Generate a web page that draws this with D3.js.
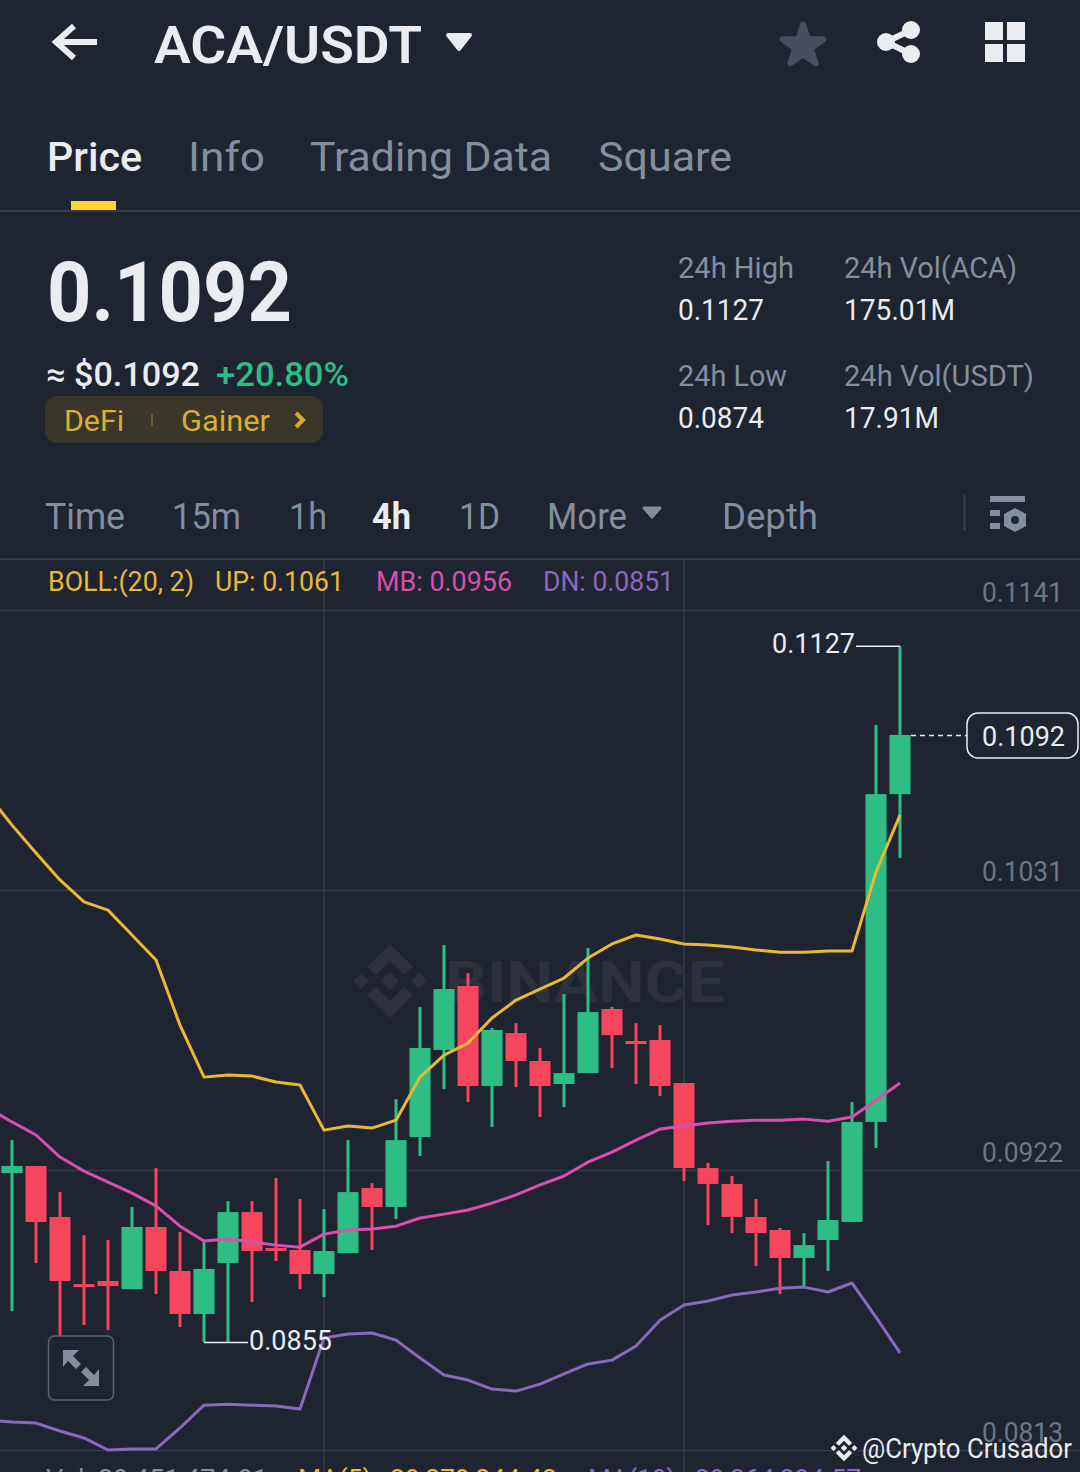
<!DOCTYPE html>
<html>
<head>
<meta charset="utf-8">
<script src="https://cdn.jsdelivr.net/npm/d3@7"></script>
<style>
  html, body { margin: 0; padding: 0; background: #1e2430; }
  svg { display: block; }
  text { font-family: Roboto, "Noto Sans", sans-serif; }
</style>
</head>
<body>
<svg id="chart" width="1080" height="1472"></svg>
<script>
// candles, oldest first
var opens  = [0.09211,0.09239,0.09040,0.08778,0.08790,0.08758,0.09001,0.08829,0.08661,0.08860,0.09059,0.08919,0.08911,0.08817,0.08899,0.09153,0.09079,0.09352,0.09692,0.09942,0.09551,0.09758,0.09649,0.09559,0.09602,0.09852,0.09727,0.09731,0.09563,0.09231,0.09169,0.09040,0.08989,0.08880,0.08950,0.09020,0.09411,0.10691];
var closes = [0.09239,0.09020,0.08790,0.08766,0.08770,0.09001,0.08829,0.08661,0.08837,0.09059,0.08907,0.08907,0.08817,0.08907,0.09137,0.09079,0.09340,0.09700,0.09930,0.09551,0.09770,0.09649,0.09551,0.09602,0.09840,0.09750,0.09715,0.09551,0.09231,0.09169,0.09040,0.08977,0.08880,0.08930,0.09028,0.09411,0.10691,0.10922];
var highs  = [0.09340,0.09239,0.09137,0.08969,0.08950,0.09079,0.09231,0.08981,0.08946,0.09102,0.09102,0.09192,0.09110,0.09071,0.09340,0.09172,0.09500,0.09860,0.10102,0.09992,0.09778,0.09797,0.09700,0.09910,0.10090,0.09860,0.09797,0.09789,0.09563,0.09251,0.09200,0.09110,0.08997,0.08977,0.09258,0.09489,0.10961,0.11269];
var lows   = [0.08672,0.08860,0.08575,0.08618,0.08598,0.08758,0.08739,0.08610,0.08551,0.08551,0.08708,0.08868,0.08758,0.08727,0.08899,0.08911,0.09032,0.09278,0.09539,0.09489,0.09391,0.09547,0.09430,0.09469,0.09602,0.09621,0.09559,0.09512,0.09180,0.09008,0.08977,0.08848,0.08739,0.08766,0.08829,0.09020,0.09309,0.10442];

// bollinger bands, starts one candle left of the screen
var bollUp  = [0.10688,0.10570,0.10461,0.10356,0.10270,0.10238,0.10141,0.10043,0.09789,0.09586,0.09594,0.09590,0.09567,0.09555,0.09379,0.09395,0.09387,0.09418,0.09586,0.09672,0.09719,0.09817,0.09887,0.09930,0.09973,0.10051,0.10106,0.10141,0.10125,0.10106,0.10102,0.10094,0.10082,0.10074,0.10074,0.10078,0.10078,0.10387,0.10609];
var bollMid = [0.09465,0.09411,0.09360,0.09274,0.09219,0.09176,0.09133,0.09083,0.09004,0.08946,0.08954,0.08942,0.08930,0.08922,0.08973,0.08989,0.08993,0.09004,0.09036,0.09051,0.09067,0.09094,0.09126,0.09165,0.09200,0.09254,0.09293,0.09340,0.09383,0.09395,0.09407,0.09414,0.09418,0.09418,0.09422,0.09414,0.09430,0.09496,0.09563];
var bollDn  = [0.08247,0.08239,0.08235,0.08204,0.08177,0.08130,0.08134,0.08134,0.08216,0.08305,0.08309,0.08305,0.08302,0.08290,0.08567,0.08583,0.08587,0.08559,0.08489,0.08423,0.08403,0.08368,0.08360,0.08387,0.08427,0.08466,0.08481,0.08536,0.08637,0.08696,0.08712,0.08735,0.08747,0.08762,0.08766,0.08747,0.08782,0.08649,0.08509];

var priceTicks = [0.1141,0.10317,0.09223,0.0813];
var priceTickLabels = ['0.1141','0.1031','0.0922','0.0813'];
var gridCandles = [13,28];

var lastPrice = 0.1092, dayHigh = 0.1127, dayLow = 0.0855;
var highIndex = 37, lowIndex = 8;

var tabs = ['Price','Info','Trading Data','Square'];
var periods = ['Time','15m','1h','4h','1D','More','Depth'];

var bg = '#1e2430', white = '#eaecef', grey = '#848e9c', line = '#373d48';
var green = '#2ebd85', red = '#f6465d', yellow = '#e9b935', pink = '#d94fac', purple = '#8a68bd';

var svg = d3.select('#chart');
svg.append('rect').attr('width',1080).attr('height',1472).attr('fill',bg);

var x = d3.scaleLinear().domain([0,37]).range([12,900]);
var y = d3.scaleLinear().domain([0.1141,0.0813]).range([610,1450]);

// width squeezes the text to what the reference font takes
function label(txt, px, py, size, color, weight, anchor, width) {
    var t = svg.append('text').attr('x',px).attr('y',py).text(txt)
        .attr('font-size',size).attr('fill',color)
        .attr('font-weight',weight || 400)
        .attr('text-anchor',anchor || 'start');
    if (width) t.attr('textLength',width).attr('lengthAdjust','spacingAndGlyphs');
    return t;
}

function logo(cx, cy, k, fill) {
    svg.append('path')
        .attr('d','M0,-37L23,-14L14,-6L0,-20L-14,-6L-23,-14Z M0,37L23,14L14,6L0,20L-14,6L-23,14Z'
            +'M0,-9L9,0L0,9L-9,0Z M-29,-8L-21,0L-29,8L-37,0Z M29,-8L37,0L29,8L21,0Z')
        .attr('transform','translate('+cx+','+cy+') scale('+k+')')
        .attr('fill',fill);
}

// header
svg.append('path').attr('d','M97,42H56M74,26L56,42L74,58')
    .attr('fill','none').attr('stroke',white).attr('stroke-width',6);
label('ACA/USDT',154,63,52,white,600,'start',268);
svg.append('path').attr('d','M448,35H470L459,49Z').attr('fill',white)
    .attr('stroke',white).attr('stroke-width',4).attr('stroke-linejoin','round');
svg.append('path').attr('d',d3.symbol().type(d3.symbolStar).size(520)())
    .attr('transform','translate(803,46)').attr('fill','#474f5f')
    .attr('stroke','#474f5f').attr('stroke-width',6).attr('stroke-linejoin','round');
svg.append('path').attr('d','M911,30L886,42L911,54').attr('fill','none').attr('stroke',white).attr('stroke-width',6);
svg.selectAll('.share').data([[911,30],[886,42],[911,54]]).enter().append('circle')
    .attr('cx',function(d){return d[0];}).attr('cy',function(d){return d[1];})
    .attr('r',9).attr('fill',white);
svg.selectAll('.apps').data([[985,22],[1007,22],[985,44],[1007,44]]).enter().append('rect')
    .attr('x',function(d){return d[0];}).attr('y',function(d){return d[1];})
    .attr('width',18).attr('height',18).attr('fill',white);

// tabs
var tabX = [47,188,310,598], tabW = [95,77,242,134];
tabs.forEach(function(t,i){
    label(t,tabX[i],171,40,i==0 ? white : grey,i==0 ? 500 : 400,'start',tabW[i]);
});
svg.append('rect').attr('x',71).attr('y',201).attr('width',45).attr('height',9).attr('fill','#fcd535');
svg.append('line').attr('x1',0).attr('x2',1080).attr('y1',211).attr('y2',211).attr('stroke',line).attr('stroke-width',2);

// price block
label(lastPrice.toFixed(4),47,321,84,white,700,'start',245);
label('≈ $'+lastPrice.toFixed(4),46,386,34,white,500,'start',154);
label('+20.80%',216,386,34,green,500,'start',133);
svg.append('rect').attr('x',45).attr('y',396).attr('width',278).attr('height',47).attr('rx',12).attr('fill','#3a3629');
label('DeFi',64,431,30,'#dcae2f',400,'start',60);
svg.append('rect').attr('x',151).attr('y',414).attr('width',2).attr('height',12).attr('fill','#6b5d2c');
label('Gainer',181,431,30,'#dcae2f',400,'start',89);
svg.append('path').attr('d','M296,413L303,420L296,427').attr('fill','none').attr('stroke','#e0a92a').attr('stroke-width',4);

label('24h High',678,278,30,grey,400,'start',116);
label('0.1127',678,320,30,white,400,'start',86);
label('24h Vol(ACA)',844,278,30,grey,400,'start',173);
label('175.01M',844,320,30,white,400,'start',111);
label('24h Low',678,386,30,grey,400,'start',109);
label('0.0874',678,428,30,white,400,'start',86);
label('24h Vol(USDT)',844,386,30,grey,400,'start',190);
label('17.91M',844,428,30,white,400,'start',95);

// period row
var periodX = [45,172,289,372,459,547,722], periodW = [80,69,38,39,41,80,96];
periods.forEach(function(t,i){
    label(t,periodX[i],529,36,t=='4h' ? white : grey,t=='4h' ? 700 : 400,'start',periodW[i]);
});
svg.append('path').attr('d','M644,508H660L652,517Z').attr('fill',grey)
    .attr('stroke',grey).attr('stroke-width',3).attr('stroke-linejoin','round');
svg.append('line').attr('x1',964.5).attr('x2',964.5).attr('y1',495).attr('y2',531).attr('stroke','#3b414c').attr('stroke-width',2);
svg.append('rect').attr('x',990).attr('y',496).attr('width',35).attr('height',6).attr('fill',grey);
svg.append('rect').attr('x',990).attr('y',510).attr('width',10).attr('height',6).attr('fill',grey);
svg.append('rect').attr('x',990).attr('y',523).attr('width',10).attr('height',6).attr('fill',grey);
svg.append('path').attr('d','M1015,508L1026,514V526L1015,532L1004,526V514Z').attr('fill',grey);
svg.append('circle').attr('cx',1015).attr('cy',520).attr('r',4).attr('fill',bg);

svg.append('line').attr('x1',0).attr('x2',1080).attr('y1',559).attr('y2',559).attr('stroke',line).attr('stroke-width',2);

// grid
svg.selectAll('.vgrid').data(gridCandles).enter().append('line')
    .attr('x1',function(d){return x(d);}).attr('x2',function(d){return x(d);})
    .attr('y1',560).attr('y2',1472).attr('stroke',line).attr('stroke-width',1.5);

var axis = svg.append('g').attr('transform','translate(1080,0)')
    .call(d3.axisLeft(y).tickValues(priceTicks).tickSize(1080)
        .tickFormat(function(d,i){return priceTickLabels[i];}));
axis.select('.domain').remove();
axis.selectAll('line').attr('stroke',line).attr('stroke-width',1.5);
axis.selectAll('text').attr('x',-17).attr('dy',-9)
    .attr('font-size',28).attr('fill','#6f7683')
    .attr('textLength',81).attr('lengthAdjust','spacingAndGlyphs')
    .style('font-family','Roboto, sans-serif');

// watermark
logo(390,981,1,'#2c313c');
label('BINANCE',445,1002,58,'#2c313c',700,'start',280);

// candles
var candles = opens.map(function(o,i){
    return {i:i, o:o, c:closes[i], h:highs[i], l:lows[i]};
});
var bars = svg.selectAll('.candle').data(candles).enter().append('g').attr('class','candle');
bars.append('line')
    .attr('x1',function(d){return x(d.i);}).attr('x2',function(d){return x(d.i);})
    .attr('y1',function(d){return y(d.h);}).attr('y2',function(d){return y(d.l);})
    .attr('stroke',function(d){return d.c>=d.o ? green : red;})
    .attr('stroke-width',3);
bars.append('rect')
    .attr('x',function(d){return x(d.i)-10.5;}).attr('width',21)
    .attr('y',function(d){return y(Math.max(d.o,d.c));})
    .attr('height',function(d){return Math.max(3,Math.abs(y(d.o)-y(d.c)));})
    .attr('fill',function(d){return d.c>=d.o ? green : red;});

// bands
var band = d3.line()
    .x(function(d,i){return x(i-1);})
    .y(function(d){return y(d);});
[[bollUp,yellow],[bollMid,pink],[bollDn,purple]].forEach(function(b){
    svg.append('path').attr('d',band(b[0])).attr('fill','none')
        .attr('stroke',b[1]).attr('stroke-width',3).attr('stroke-linejoin','round');
});

// legend row
label('BOLL:(20, 2)',48,591,28,yellow,400,'start',146);
label('UP: 0.1061',215,591,28,yellow,400,'start',129);
label('MB: 0.0956',376,591,28,pink,400,'start',136);
label('DN: 0.0851',543,591,28,purple,400,'start',131);

// high, low and last price marks
svg.append('line').attr('x1',856).attr('x2',x(highIndex)).attr('y1',y(dayHigh)+0.5).attr('y2',y(dayHigh)+0.5)
    .attr('stroke',white).attr('stroke-width',1.5);
label(dayHigh.toFixed(4),772,653,28,white,400,'start',83);
svg.append('line').attr('x1',x(lowIndex)).attr('x2',248).attr('y1',y(dayLow)).attr('y2',y(dayLow))
    .attr('stroke',white).attr('stroke-width',1.5);
label(dayLow.toFixed(4),249,1350,28,white,400,'start',83);

svg.append('line').attr('x1',911).attr('x2',967).attr('y1',y(lastPrice)).attr('y2',y(lastPrice))
    .attr('stroke',white).attr('stroke-width',1.5).attr('stroke-dasharray','5,4');
svg.append('rect').attr('x',967).attr('y',713).attr('width',111).attr('height',45).attr('rx',11)
    .attr('fill',bg).attr('stroke',white).attr('stroke-width',1.5);
label(lastPrice.toFixed(4),982,746,28,white,400,'start',83);

// expand button
svg.append('rect').attr('x',48.5).attr('y',1336).attr('width',65).attr('height',64).attr('rx',6)
    .attr('fill',bg).attr('stroke','#5a626f').attr('stroke-width',1.5);
svg.append('path').attr('d','M63,1350H79L73,1356L81,1364L76,1369L68,1361L63,1367Z M99,1386H83L89,1380L81,1372L86,1367L94,1375L99,1369Z')
    .attr('fill','#848e9c');

// volume row, cut by the bottom edge
label('Vol: 29,451,474.81',46,1489,28,grey,400,'start',222);
label('MA(5):',298,1489,28,yellow,400,'start',80);
label('29,279,244.42',390,1489,28,yellow,400,'start',167);
label('MA(10):',588,1489,28,purple,400,'start',94);
label('29,264,294.57',695,1489,28,purple,400,'start',166);

// repost tag
logo(844,1448,0.36,white);
label('@Crypto Crusador',862,1458,27,white,400,'start',210);
</script>
</body>
</html>
